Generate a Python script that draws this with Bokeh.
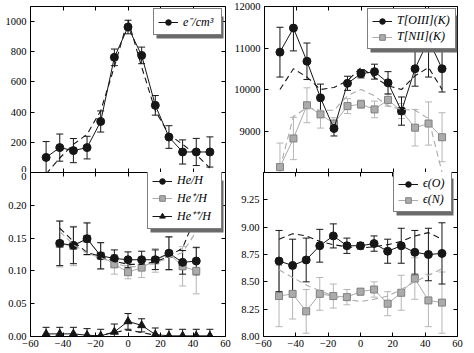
from bokeh.plotting import figure
from bokeh.layouts import column, row
from bokeh.models import (LinearAxis, FixedTicker, Legend, LegendItem, Range1d,
                          PrintfTickFormatter, BoxAnnotation)
from bokeh.embed import file_html
from bokeh.resources import INLINE

# ---------------- data ----------------
pos13 = [-50.4, -42.0, -33.6, -25.2, -16.8, -8.4, 0.0, 8.4, 16.8, 25.2, 33.6, 42.0, 50.4]
pos11 = [-42.0, -33.6, -25.2, -16.8, -8.4, 0.0, 8.4, 16.8, 25.2, 33.6, 42.0]

# electron density
ne = [100, 165, 145, 165, 338, 763, 964, 776, 445, 235, 136, 136, 136]
ne_err = [105, 90, 80, 75, 70, 55, 45, 55, 65, 75, 80, 90, 100]
ne_model = [-10, 96, 186, 253, 409, 700, 1013, 700, 410, 253, 186, 119, 29]

# temperatures
toiii = [10900, 11480, 10680, 9800, 9060, 10150, 10380, 10430, 10160, 9480, 10500, 11200, 10500]
toiii_err = [600, 550, 440, 330, 180, 170, 100, 180, 270, 340, 420, 900, 560]
tnii = [8130, 8820, 9620, 9400, 9180, 9600, 9645, 9520, 9750, 9480, 9080, 9180, 8850]
tnii_err = [580, 510, 420, 330, 140, 180, 100, 200, 150, 180, 440, 520, 590]
toiii_model = [10000, 10500, 10300, 10000, 10050, 10210, 10530, 10290, 10090, 10000, 10330, 10530, 10000]
tnii_model = [8100, 9350, 9560, 9500, 9500, 9850, 10000, 9850, 9600, 9520, 9500, 9300, 8000]

# helium abundances
he = [0.142, 0.139, 0.149, 0.123, 0.119, 0.117, 0.117, 0.117, 0.127, 0.113, 0.115]
he_err = [0.034, 0.028, 0.024, 0.020, 0.013, 0.012, 0.013, 0.015, 0.025, 0.018, 0.021]
hep = [0.141, 0.138, 0.149, 0.123, 0.110, 0.098, 0.105, 0.116, 0.126, 0.107, 0.100]
hep_err = [0.035, 0.030, 0.025, 0.020, 0.015, 0.010, 0.015, 0.018, 0.025, 0.030, 0.035]
hepp = [0.004, 0.004, 0.004, 0.002, 0.001, 0.007, 0.023, 0.017, 0.003, 0.001, 0.001, 0.001, 0.001]
hepp_err = [0.010, 0.010, 0.010, 0.010, 0.010, 0.012, 0.012, 0.010, 0.010, 0.010, 0.010, 0.010, 0.010]
he_model = [0.165, 0.145, 0.128, 0.122, 0.115, 0.110, 0.110, 0.114, 0.122, 0.135, 0.185]
hep_model = [0.160, 0.140, 0.127, 0.120, 0.112, 0.106, 0.107, 0.112, 0.120, 0.128, 0.160]
hepp_model = [0.000, 0.000, 0.000, 0.000, 0.002, 0.006, 0.010, 0.006, 0.002, 0.000, 0.000, 0.000, 0.000]

# O and N abundances
eo = [8.69, 8.65, 8.70, 8.83, 8.92, 8.83, 8.83, 8.85, 8.78, 8.83, 8.77, 8.75, 8.76]
eo_err = [0.28, 0.24, 0.20, 0.15, 0.11, 0.07, 0.03, 0.07, 0.11, 0.16, 0.20, 0.24, 0.28]
en = [8.37, 8.39, 8.23, 8.39, 8.37, 8.36, 8.41, 8.43, 8.30, 8.40, 8.53, 8.33, 8.31]
en_err = [0.28, 0.23, 0.20, 0.15, 0.11, 0.07, 0.03, 0.07, 0.11, 0.16, 0.19, 0.24, 0.28]
eo_model = [8.89, 8.94, 8.92, 8.87, 8.84, 8.82, 8.81, 8.82, 8.84, 8.87, 8.92, 8.95, 8.89]
en_model = [8.61, 8.54, 8.47, 8.42, 8.37, 8.34, 8.32, 8.34, 8.37, 8.43, 8.50, 8.56, 8.62]

x_ticks = [-60, -40, -20, 0, 20, 40, 60]
x_tick_labels = ["\u221260", "\u221240", "\u221220", "0", "20", "40", "60"]
ne_ticks = [0, 200, 400, 600, 800, 1000]
t_ticks = [8000, 9000, 10000, 11000, 12000]
he_ticks = [0.0, 0.05, 0.10, 0.15, 0.20, 0.25]
ab_ticks = [8.0, 8.25, 8.5, 8.75, 9.0, 9.25, 9.5]

# ---------------- style ----------------
FONT = "Liberation Serif"
TICK_SIZE = "10.5px"
BLACK = "#161616"
GFILL = "#ababab"
GEDGE = "#808080"
GLINE = "#ababab"
GERR = "#b6b6b6"

LEG_PAD = 4
LEG_SPACING = 1
LEG_ROW = 14
LEG_GLYPH_W = 20
LEG_STANDOFF = 5
SHADOW_D = 3


def style_axis(ax, ticks, show, fmt=None, overrides=None, standoff=4):
    ax.ticker = FixedTicker(ticks=ticks)
    ax.axis_line_color = "black"
    ax.axis_line_width = 1
    ax.major_tick_in = 4
    ax.major_tick_out = 0
    ax.minor_tick_in = 0
    ax.minor_tick_out = 0
    ax.major_tick_line_color = "black"
    ax.major_tick_line_width = 1
    if show:
        ax.major_label_text_font = FONT
        ax.major_label_text_font_size = TICK_SIZE
        ax.major_label_text_color = "black"
        ax.major_label_standoff = standoff
        if fmt is not None:
            ax.formatter = fmt
        if overrides is not None:
            ax.major_label_overrides = overrides
    else:
        ax.major_label_text_color = None
        ax.major_label_text_font_size = "0px"
        ax.major_label_standoff = 0


def panel(w, h, yr, borders, show_x, yticks, yfmt=None, yover=None):
    left, right, top, bottom = borders
    p = figure(width=w, height=h, x_range=Range1d(-60, 60), y_range=Range1d(*yr),
               output_backend="svg", toolbar_location=None,
               x_axis_location=None, y_axis_location=None,
               min_border_left=left, min_border_right=right,
               min_border_top=top, min_border_bottom=bottom)
    p.grid.visible = False
    p.outline_line_color = None
    p.background_fill_color = "white"
    p.border_fill_color = "white"
    xover = {t: s for t, s in zip(x_ticks, x_tick_labels)}
    ax_b = LinearAxis()
    style_axis(ax_b, x_ticks, show_x, overrides=xover, standoff=3)
    p.add_layout(ax_b, "below")
    ax_t = LinearAxis()
    style_axis(ax_t, x_ticks, False)
    p.add_layout(ax_t, "above")
    ax_l = LinearAxis()
    style_axis(ax_l, yticks, True, fmt=yfmt, overrides=yover, standoff=4)
    p.add_layout(ax_l, "left")
    ax_r = LinearAxis()
    style_axis(ax_r, yticks, False)
    p.add_layout(ax_r, "right")
    return p


def errbars(p, x, y, e, color):
    lo = [a - b for a, b in zip(y, e)]
    hi = [a + b for a, b in zip(y, e)]
    p.segment(x0=x, y0=lo, x1=x, y1=hi, line_color=color, line_width=1)
    p.scatter(x=x, y=lo, marker="dash", size=7, line_color=color, line_width=1)
    p.scatter(x=x, y=hi, marker="dash", size=7, line_color=color, line_width=1)


def series(p, x, y, marker, fill, edge, linec, size=8):
    lr = p.line(x=x, y=y, line_color=linec, line_width=1)
    sr = p.scatter(x=x, y=y, marker=marker, size=size, fill_color=fill,
                   line_color=edge, line_width=1)
    return [lr, sr]


def model(p, x, y, color):
    p.line(x=x, y=y, line_color=color, line_width=1.1, line_dash="6 4")


def legend(p, entries, right, top, label_w):
    n = len(entries)
    W = 2 * LEG_PAD + LEG_GLYPH_W + LEG_STANDOFF + label_w
    H = 2 * LEG_PAD + n * LEG_ROW + (n - 1) * LEG_SPACING
    x0, y0 = right - W, top - H
    d = SHADOW_D
    shadow = BoxAnnotation(left=x0 + d, right=x0 + W + d, bottom=y0 - d, top=y0 + H - d,
                           left_units="screen", right_units="screen",
                           top_units="screen", bottom_units="screen",
                           fill_color="#6a6a6a", fill_alpha=1.0, line_color=None)
    main = Legend(items=[LegendItem(label=lab, renderers=r) for lab, r in entries],
                  location=(x0, y0), background_fill_color="white", background_fill_alpha=1.0,
                  border_line_color="black", border_line_width=1,
                  padding=LEG_PAD, spacing=LEG_SPACING, glyph_width=LEG_GLYPH_W,
                  glyph_height=LEG_ROW, label_height=LEG_ROW, label_width=label_w,
                  label_standoff=LEG_STANDOFF, label_text_font=FONT,
                  label_text_font_style="italic", label_text_font_size="12px",
                  label_text_color="black", margin=0)
    p.add_layout(shadow, "center")
    p.add_layout(main, "center")


# ---------------- panels ----------------
p1 = panel(231, 172, (0, 1100), (30, 6, 6, 0), False, ne_ticks)
errbars(p1, pos13, ne, ne_err, BLACK)
r_ne = series(p1, pos13, ne, "circle", BLACK, BLACK, BLACK)
model(p1, pos13, ne_model, BLACK)
legend(p1, [("e\u207b/cm\u00b3", r_ne)], 190, 159, 34)

p2 = panel(243, 172, (8000, 12000), (32, 17, 6, 0), False, t_ticks,
           yover={8000: ""})
errbars(p2, pos13, tnii, tnii_err, GERR)
errbars(p2, pos13, toiii, toiii_err, BLACK)
r_tn = series(p2, pos13, tnii, "square", GFILL, GEDGE, GLINE, size=7)
r_to = series(p2, pos13, toiii, "circle", BLACK, BLACK, BLACK)
model(p2, pos13, toiii_model, BLACK)
model(p2, pos13, tnii_model, GLINE)
legend(p2, [("T[OIII](K)", r_to), ("T[NII](K)", r_tn)], 190, 160, 54)

p3 = panel(231, 181, (0, 0.25), (30, 6, 0, 17), True, he_ticks,
           yfmt=PrintfTickFormatter(format="%.2f"), yover={0.25: "0"})
errbars(p3, pos11, hep, hep_err, GERR)
errbars(p3, pos11, he, he_err, BLACK)
errbars(p3, pos13, hepp, hepp_err, BLACK)
r_hep = series(p3, pos11, hep, "square", GFILL, GEDGE, GLINE, size=7)
r_he = series(p3, pos11, he, "circle", BLACK, BLACK, BLACK)
r_hepp = series(p3, pos13, hepp, "triangle", BLACK, BLACK, BLACK, size=8)
model(p3, pos11, he_model, BLACK)
model(p3, pos11, hep_model, GLINE)
model(p3, pos13, hepp_model, BLACK)
legend(p3, [("He/H", r_he), ("He\u207a/H", r_hep), ("He\u207a\u207a/H", r_hepp)], 190, 159, 40)

p4 = panel(243, 181, (8.0, 9.5), (32, 17, 0, 17), True, ab_ticks,
           yfmt=PrintfTickFormatter(format="%.2f"), yover={9.5: ""})
errbars(p4, pos13, en, en_err, GERR)
errbars(p4, pos13, eo, eo_err, BLACK)
r_en = series(p4, pos13, en, "square", GFILL, GEDGE, GLINE, size=7)
r_eo = series(p4, pos13, eo, "circle", BLACK, BLACK, BLACK)
model(p4, pos13, eo_model, BLACK)
model(p4, pos13, en_model, GLINE)
legend(p4, [("\u03f5(O)", r_eo), ("\u03f5(N)", r_en)], 187, 161, 24)

layout = column(row(p1, p2), row(p3, p4))

with open("out.html", "w") as f:
    f.write(file_html(layout, INLINE))
